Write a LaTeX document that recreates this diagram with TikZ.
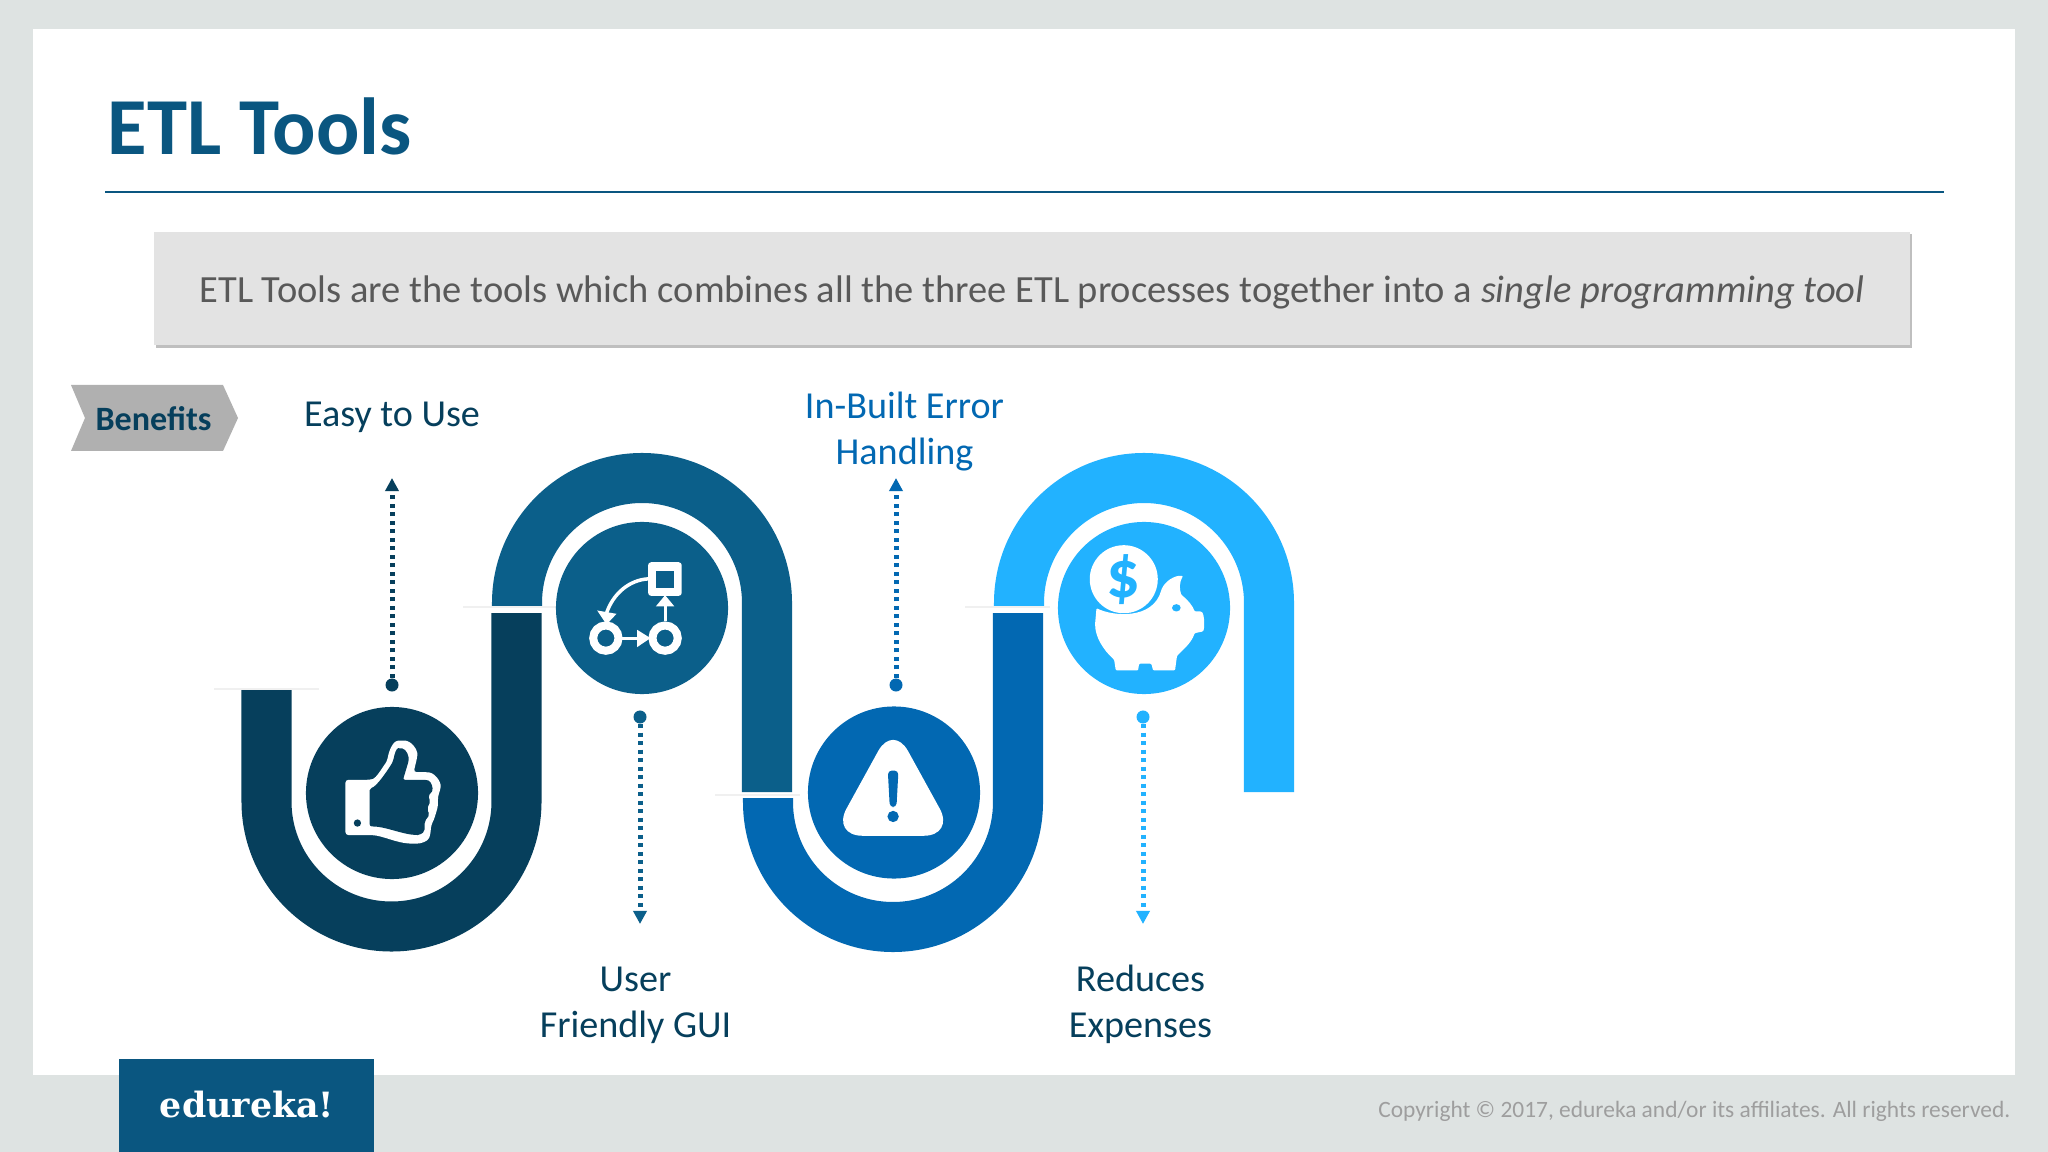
\documentclass[tikz,border=0pt]{standalone}
\usepackage{fontspec}
\setmainfont{Carlito}
\newfontfamily\logofont{DejaVu Serif}
\usepackage{tikz}
\usetikzlibrary{arrows.meta,shadows}

\definecolor{pagegrey}{HTML}{DEE3E2}
\definecolor{deepblue}{HTML}{063F5C}
\definecolor{teal}{HTML}{0B5F8A}
\definecolor{midblue}{HTML}{0268B2}
\definecolor{skyblue}{HTML}{22B2FF}
\definecolor{titleblue}{HTML}{0A5680}

\tikzset{
  ribbon/.style={line width=0.5cm},
  badge/.style={circle, minimum size=1.72cm, inner sep=0pt},
  enddot/.style={circle, minimum size=0.13cm, inner sep=0pt},
  dotline/.style={line width=0.05cm, dash pattern=on 0.04cm off 0.045cm,
    -{Triangle[length=0.13cm,width=0.13cm,sep=0.02cm]}},
  label/.style={font=\fontsize{10.85}{13}\selectfont, align=center},
  joint/.style={line width=0.3pt, color=black!6}
}

\begin{document}
\begin{tikzpicture}[x=0.01cm,y=-0.01cm]

\useasboundingbox (0,0) rectangle (2048,1152);
\fill [pagegrey] (0,0) rectangle (2048,1152);
\fill [white] (33,29) rectangle (2015,1075);

\node [font=\fontsize{23}{27}\bfseries\selectfont, text=titleblue, anchor=west, inner sep=0pt] (title) at (107,126) {ETL Tools};
\coordinate (ruleL) at (105,192);
\coordinate (ruleR) at (1944,192);
\draw [titleblue, line width=0.5pt] (ruleL) -- (ruleR);

\node [fill=black!11, minimum width=17.54cm, minimum height=1.13cm, inner sep=0pt,
  drop shadow={shadow xshift=0.02cm,shadow yshift=-0.025cm,fill=black,opacity=0.25}] (introbox) at (1032,288.5) {};
\node [font=\fontsize{10.94}{13}\selectfont, text=black!65] (intro) at (1032,292)
  {ETL Tools are the tools which combines all the three ETL processes together into a \textit{single programming tool}};

\fill [black!31] (71,385) -- (223,385) -- (238,418) -- (223,451) -- (71,451) -- (85,418) -- cycle;
\node [font=\fontsize{9.7}{12}\bfseries\selectfont, text=deepblue] (benefits) at (153.5,419) {Benefits};

% the four bends
\draw [ribbon, deepblue] (266.5,689) -- (266.5,801.5) arc (180:0:125) -- (516.5,613);
\draw [ribbon, teal] (517,607) -- (517,603) arc (180:360:125) -- (767,792);
\draw [ribbon, midblue] (768,798) -- (768,802) arc (180:0:125) -- (1018,613);
\draw [ribbon, skyblue] (1019,607) -- (1019,603) arc (180:360:125) -- (1269,792);

\draw [joint] (214,689) -- (319,689);
\draw [joint] (463,607) -- (570,607);
\draw [joint] (715,795) -- (800,795);
\draw [joint] (965,607) -- (1050,607);

\foreach \n/\x/\y/\c in {thumb/392/793/deepblue, flow/642/608/teal, warn/894/792.5/midblue, pig/1144/608/skyblue}
    \node [badge, fill=\c] (\n) at (\x,\y) {};

\foreach \n/\x/\ya/\yb/\c in {easy/392/685/476/deepblue, gui/640/717/926/teal, err/896/685/476/midblue, cost/1143/717/926/skyblue} {
    \coordinate (\n tip) at (\x,\yb);
    \node [enddot, fill=\c] (\n dot) at (\x,\ya) {};
    \draw [dotline, \c] (\n dot) -- (\n tip);
}

\node [label, text=deepblue] (easy) at (392,417) {Easy to Use};
\node [label, text=midblue] (err) at (904.5,431.5) {In-Built Error\\Handling};
\node [label, text=deepblue] (gui) at (635.5,1005) {User\\Friendly GUI};
\node [label, text=deepblue] (cost) at (1140.5,1004) {Reduces\\Expenses};

% thumb icon
\begin{scope}[shift={(200,650)},x=0.003333cm,y=-0.003333cm]
\fill [white, rounded corners=0.03cm] (437,390) -- (510,390) .. controls (530,385) and (550,350) .. (562,335)
  .. controls (570,290) and (585,272) .. (605,272) .. controls (635,272) and (655,300) .. (652,325) -- (642,367) -- (680,367)
  .. controls (705,370) and (725,395) .. (722,420) -- (715,440) -- (715,470) -- (703,510) -- (695,525) -- (692,555)
  .. controls (685,575) and (665,582) .. (640,582) .. controls (590,580) and (550,558) .. (510,556) -- (437,556) -- cycle;
\fill [deepblue, rounded corners=0.02cm] (510,415) .. controls (530,412) and (565,360) .. (580,335)
  .. controls (585,310) and (590,295) .. (602,295) .. controls (620,298) and (630,320) .. (625,340) -- (610,390) -- (680,390)
  .. controls (695,395) and (702,415) .. (695,430) -- (685,437) -- (692,455) -- (682,478) -- (690,495) -- (675,515) -- (675,545)
  -- (660,556) .. controls (610,556) and (560,530) .. (510,530) -- cycle;
\fill [deepblue] (473,520) circle (11);
\end{scope}

% flow icon
\begin{scope}[shift={(520,500)},x=0.003333cm,y=-0.003333cm]
\fill [white, rounded corners=0.03cm] (385,187) rectangle (486,288);
\fill [teal] (410,212) rectangle (462,263);
\draw [white, line width=0.08cm] (258,415) circle (38);
\draw [white, line width=0.08cm] (436,415) circle (38);
\draw [white, line width=0.03cm] (305,415) -- (360,415);
\draw [white, line width=0.03cm] (436,365) -- (436,315);
\draw [white, line width=0.035cm] (385,237) .. controls (330,240) and (280,280) .. (260,340);
\fill [white] (352,390) -- (392,415) -- (352,442) -- cycle;
\fill [white] (408,320) -- (436,286) -- (464,320) -- cycle;
\fill [white] (232,332) -- (290,342) -- (260,374) -- cycle;
\end{scope}

% warning icon
\begin{scope}[shift={(760,700)},x=0.003333cm,y=-0.003333cm]
\fill [white, rounded corners=0.31cm] (400,72) -- (585,408) -- (215,408) -- cycle;
\fill [midblue, rounded corners=0.04cm] (384,212) -- (416,212) -- (410,322) -- (390,322) -- cycle;
\fill [midblue] (400,350) circle (17);
\end{scope}

% piggy icon
\begin{scope}[shift={(980,500)},x=0.003333cm,y=-0.003333cm]
\fill [white, rounded corners=0.01cm] (350,325) .. controls (400,350) and (520,360) .. (545,270)
  .. controls (555,245) and (585,225) .. (610,228) .. controls (600,245) and (598,265) .. (605,285)
  .. controls (625,300) and (640,320) .. (645,335) -- (665,335) .. controls (675,345) and (675,385) .. (670,395)
  -- (645,400) .. controls (635,430) and (610,450) .. (592,468) -- (586,512) -- (520,512) -- (515,492) -- (478,492) -- (475,512)
  -- (408,512) -- (403,480) .. controls (370,450) and (345,410) .. (346,370) -- cycle;
\fill [skyblue] (590,324) ellipse (13 and 11);
\node [circle, fill=white, minimum size=0.68cm, inner sep=0pt, text=skyblue, font=\fontsize{19}{21}\bfseries\selectfont] (coin) at (432,238) {\$};
\end{scope}

\fill [titleblue] (119,1059) rectangle (374,1152);
\node [font=\fontsize{9.9}{12}\logofont\bfseries\selectfont, text=white] (logo) at (247,1105) {edureka!};
\node [font=\fontsize{6.66}{8}\selectfont, text=black!38, anchor=east, inner sep=0pt] (copyright) at (2011,1111) {Copyright © 2017, edureka and/or its affiliates. All rights reserved.};

\end{tikzpicture}
\end{document}
